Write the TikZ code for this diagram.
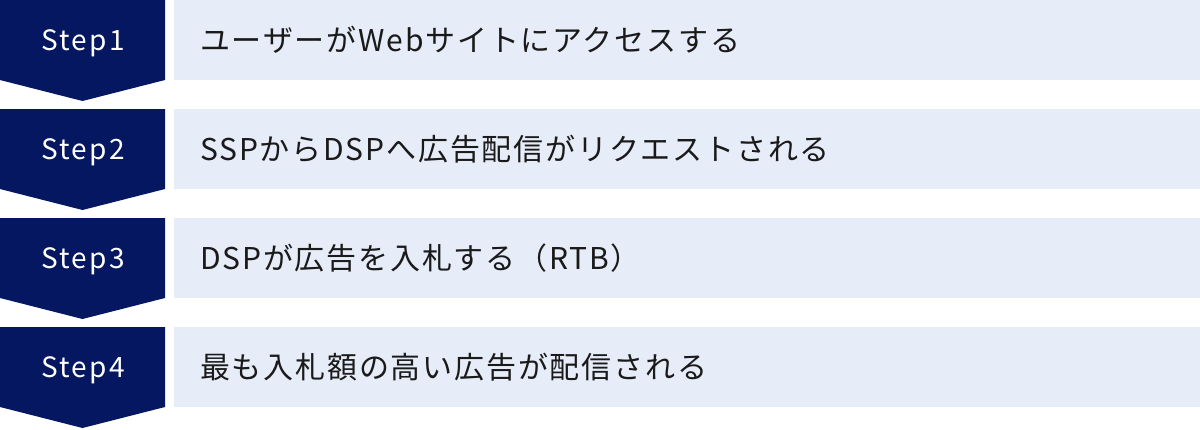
\documentclass[tikz,border=0pt]{standalone}
\usepackage{fontspec}
\newfontfamily\jp[LetterSpace=6]{Noto Sans CJK JP}
\newfontfamily\stepfont[LetterSpace=8]{Noto Sans CJK JP}
\definecolor{navy}{RGB}{4,23,96}
\definecolor{lightbg}{RGB}{230,236,248}
\definecolor{txt}{RGB}{26,26,26}
\tikzset{
  chev/.style={fill=navy, draw=none},
  band/.style={fill=lightbg, draw=none},
  steplabel/.style={anchor=base, inner sep=0pt, text=white, font=\stepfont\fontsize{28}{33}\selectfont},
  desc/.style={anchor=base west, inner sep=0pt, text=txt, font=\jp\fontsize{30}{36}\selectfont}
}
\begin{document}
\begin{tikzpicture}[x=1pt,y=-1pt]
\useasboundingbox (0,0) rectangle (1200,429);
\foreach \i/\lab/\txt in {0/Step1/ユーザーがWebサイトにアクセスする,
                         1/Step2/SSPからDSPへ広告配信がリクエストされる,
                         2/Step3/DSPが広告を入札する（RTB）,
                         3/Step4/最も入札額の高い広告が配信される}{
  \pgfmathsetmacro{\t}{109*\i}
  \fill[chev] (0,\t) -- (165,\t) -- (165,\t+80) -- (82.5,\t+101) -- (0,\t+80) -- cycle;
  \fill[band] (174,\t) rectangle (1200,\t+80);
  \node[steplabel] (s\i) at (83,\t+50.5) {\lab};
  \node[desc] (d\i) at (200,\t+51) {\txt};
}
\end{tikzpicture}
\end{document}
